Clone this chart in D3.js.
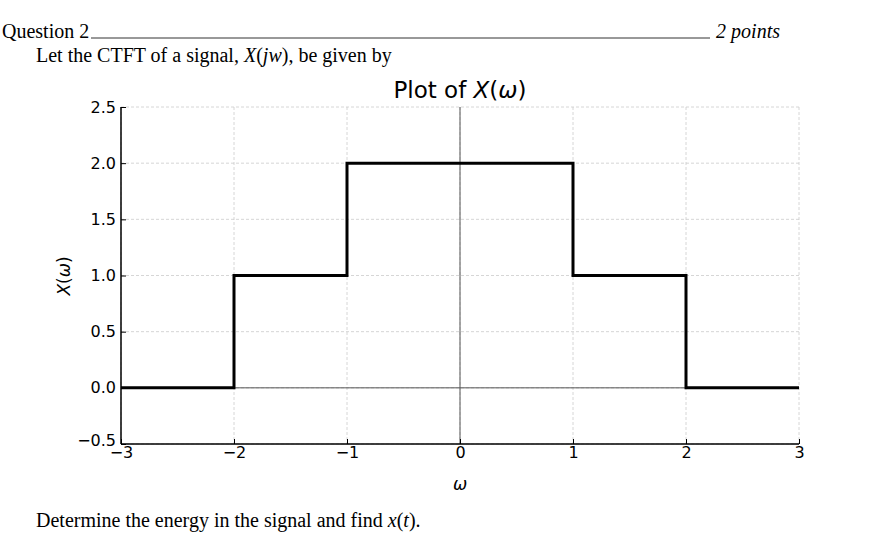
<!DOCTYPE html>
<html><head><meta charset="utf-8">
<script src="https://cdn.jsdelivr.net/npm/d3@7"></script>
<style>body{margin:0;background:#fff}</style></head>
<body><svg id="c" width="874" height="544"></svg>
<script>
const stepW = [-3,-2,-2,-1,-1,1,1,2,2,3];
const stepX = [0,0,1,1,2,2,1,1,0,0];
const xTicks = [-3,-2,-1,0,1,2,3];
const yTicks = [-0.5,0,0.5,1,1.5,2,2.5];

const svg = d3.select("#c");
const x = d3.scaleLinear().domain([-3,3]).range([121,799]);
const y = d3.scaleLinear().domain([-0.5,2.5]).range([444,107]);
const serif = "'Liberation Serif',serif";

svg.append("text").attr("x",2).attr("y",38).attr("font-family",serif).attr("font-size",20).text("Question 2");
svg.append("line").attr("x1",91).attr("x2",710).attr("y1",38).attr("y2",38).attr("stroke","#333").attr("stroke-width",1);
svg.append("text").attr("x",780).attr("y",38).attr("text-anchor","end").attr("font-family",serif).attr("font-style","italic").attr("font-size",20).text("2 points");
const t2 = svg.append("text").attr("x",36).attr("y",62).attr("font-family",serif).attr("font-size",20);
t2.append("tspan").text("Let the CTFT of a signal, ");
t2.append("tspan").attr("font-style","italic").text("X");
t2.append("tspan").text("(");
t2.append("tspan").attr("font-style","italic").text("jw");
t2.append("tspan").text("), be given by");
const t3 = svg.append("text").attr("x",36).attr("y",527).attr("font-family",serif).attr("font-size",20);
t3.append("tspan").text("Determine the energy in the signal and find ");
t3.append("tspan").attr("font-style","italic").text("x");
t3.append("tspan").text("(");
t3.append("tspan").attr("font-style","italic").text("t");
t3.append("tspan").text(").");

const g = svg.append("g");
xTicks.forEach(v=>g.append("line").attr("x1",x(v)).attr("x2",x(v)).attr("y1",y(2.5)).attr("y2",y(-0.5)).attr("stroke","#ccc").attr("stroke-dasharray","3,2").attr("stroke-width",0.8));
yTicks.forEach(v=>g.append("line").attr("x1",x(-3)).attr("x2",x(3)).attr("y1",y(v)).attr("y2",y(v)).attr("stroke","#ccc").attr("stroke-dasharray","3,2").attr("stroke-width",0.8));
g.append("line").attr("x1",x(0)).attr("x2",x(0)).attr("y1",y(2.5)).attr("y2",y(-0.5)).attr("stroke","#555").attr("stroke-width",1);
g.append("line").attr("x1",x(-3)).attr("x2",x(3)).attr("y1",y(0)).attr("y2",y(0)).attr("stroke","#555").attr("stroke-width",1);

const pts = stepW.map((w,i)=>[w,stepX[i]]);
svg.append("path").attr("d",d3.line().x(d=>x(d[0])).y(d=>y(d[1]))(pts)).attr("fill","none").attr("stroke","#000").attr("stroke-width",3);

const fnt = "'DejaVu Sans',sans-serif";
const ax = svg.append("g").attr("transform",`translate(0,${y(-0.5)})`)
  .call(d3.axisBottom(x).tickValues(xTicks).tickFormat(v=>(v<0?"\u2212":"")+Math.abs(v)).tickSizeInner(-5).tickSizeOuter(0).tickPadding(3));
const ay = svg.append("g").attr("transform",`translate(${x(-3)},0)`)
  .call(d3.axisLeft(y).tickValues(yTicks).tickFormat(v=>(v<0?"\u2212":"")+Math.abs(v).toFixed(1)).tickSizeInner(-5).tickSizeOuter(0).tickPadding(5));
[ax,ay].forEach(a=>{a.attr("font-size",null).attr("font-family",null);
  a.selectAll("text").style("font-family",fnt).style("font-size","16px").attr("fill","#000");
  a.select(".domain").attr("stroke","#000").attr("stroke-width",1.5);
  a.selectAll(".tick line").attr("stroke","#000");});
ay.selectAll(".tick text").filter(d=>d<0).attr("dy","0.1em");
ax.select(".domain").attr("d",`M${x(-3)},0H${x(3)}`);
ay.select(".domain").attr("d",`M0,${y(2.5)}V${y(-0.5)}`);

svg.append("text").attr("x",460).attr("y",98).attr("text-anchor","middle").style("font-family",fnt).style("font-size","23px")
  .html('Plot of <tspan font-style="italic">X</tspan>(<tspan font-style="italic">ω</tspan>)');
svg.append("text").attr("x",460).attr("y",490).attr("text-anchor","middle").style("font-family",fnt).style("font-size","17px").attr("font-style","italic").text("ω");
svg.append("text").attr("transform","translate(70,276) rotate(-90)").attr("text-anchor","middle").style("font-family",fnt).style("font-size","17px")
  .html('<tspan font-style="italic">X</tspan>(<tspan font-style="italic">ω</tspan>)');
</script></body></html>
